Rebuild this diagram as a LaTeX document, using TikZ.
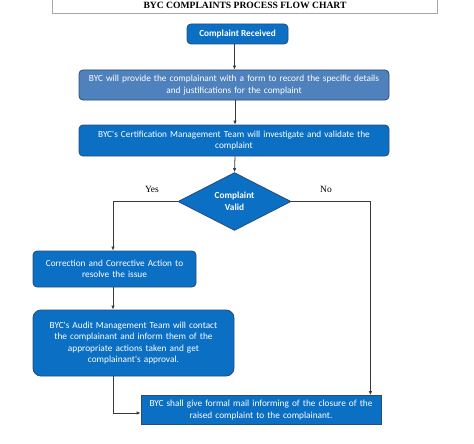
\documentclass[tikz,border=0pt]{standalone}
\usepackage{fontspec}
\setmainfont{Liberation Serif}
\newfontfamily\boxfont{Carlito}
\usetikzlibrary{shapes.geometric,arrows.meta,positioning}
\definecolor{darkfill}{HTML}{0B6FC4}
\definecolor{lightfill}{HTML}{4F81BD}
\definecolor{edge}{HTML}{264C7A}
\definecolor{linecol}{HTML}{3A3A3A}
\tikzset{
  procbox/.style={draw=edge, line width=0.8pt, fill=darkfill, text=white, rounded corners=4pt,
    align=center, inner sep=0pt, font=\boxfont\fontsize{9.3}{11.2}\selectfont},
  decbox/.style={diamond, draw=edge, line width=0.8pt, fill=darkfill, text=white, inner sep=0pt,
    align=center, font=\boxfont\bfseries\fontsize{9.3}{11.5}\selectfont},
  conn/.style={draw=linecol, line width=0.8pt, -{Latex[length=4pt,width=3.5pt]}},
  lbl/.style={font=\fontsize{9.5}{11}\selectfont}
}
\begin{document}
\begin{tikzpicture}[x=1pt,y=-1pt]
\useasboundingbox (0,0) rectangle (474,444);
\draw[gray!70, line width=0.8pt] (52,0) -- (52,13) -- (437,13) -- (437,0);
\node[font=\bfseries\fontsize{9.6}{11}\selectfont] (title) at (245,5) {BYC COMPLAINTS PROCESS FLOW CHART};

\node[procbox, minimum width=101pt, minimum height=20pt, font=\boxfont\bfseries\fontsize{9.3}{11}\selectfont] (rec) at (237.5,34) {Complaint Received};
\node[procbox, fill=lightfill, minimum width=310pt, minimum height=30pt, text width=305pt] (form) at (234,85)
  {BYC will provide the complainant with a form to record the specific details\\ and justifications for the complaint};
\node[procbox, minimum width=310pt, minimum height=31pt, text width=305pt] (cert) at (234,140.5)
  {BYC's Certification Management Team will investigate and validate the\\ complaint};
\node[decbox, minimum width=113pt, minimum height=53pt] (valid) at (234.5,201.5) {Complaint\\ Valid};
\node[procbox, minimum width=163pt, minimum height=36pt, text width=158pt] (corr) at (114.5,269)
  {Correction and Corrective Action to\\ resolve the issue};
\node[procbox, rounded corners=8pt, minimum width=201pt, minimum height=66pt, text width=196pt] (audit) at (133.5,343)
  {BYC's Audit Management Team will contact\\ the complainant and inform them of the\\ appropriate actions taken and get\\ complainant's approval.};
\node[procbox, rounded corners=0pt, minimum width=240pt, minimum height=29pt, text width=236pt] (mail) at (261,410)
  {BYC shall give formal mail informing of the closure of the\\ raised complaint to the complainant.};

\node[lbl] (yes) at (152,189) {Yes};
\node[lbl] (no) at (326,189) {No};

\draw[conn] ([xshift=-3pt]rec.south) -- ([xshift=-3pt]rec.south |- form.north);
\draw[conn] ([xshift=1pt]form.south) -- ([xshift=1pt]form.south |- cert.north);
\draw[conn] ([xshift=1pt]cert.south) -- (valid.north);
\draw[conn] (valid.west) -| ([xshift=-1.5pt]corr.north);
\draw[conn] (valid.east) -| ([xshift=-11pt]mail.north east);
\draw[conn] ([xshift=-1.5pt]corr.south) -- ([xshift=-1.5pt]corr.south |- audit.north);
\draw[conn] ([xshift=-20.5pt]audit.south) |- ([yshift=-3pt]mail.west);
\end{tikzpicture}
\end{document}
